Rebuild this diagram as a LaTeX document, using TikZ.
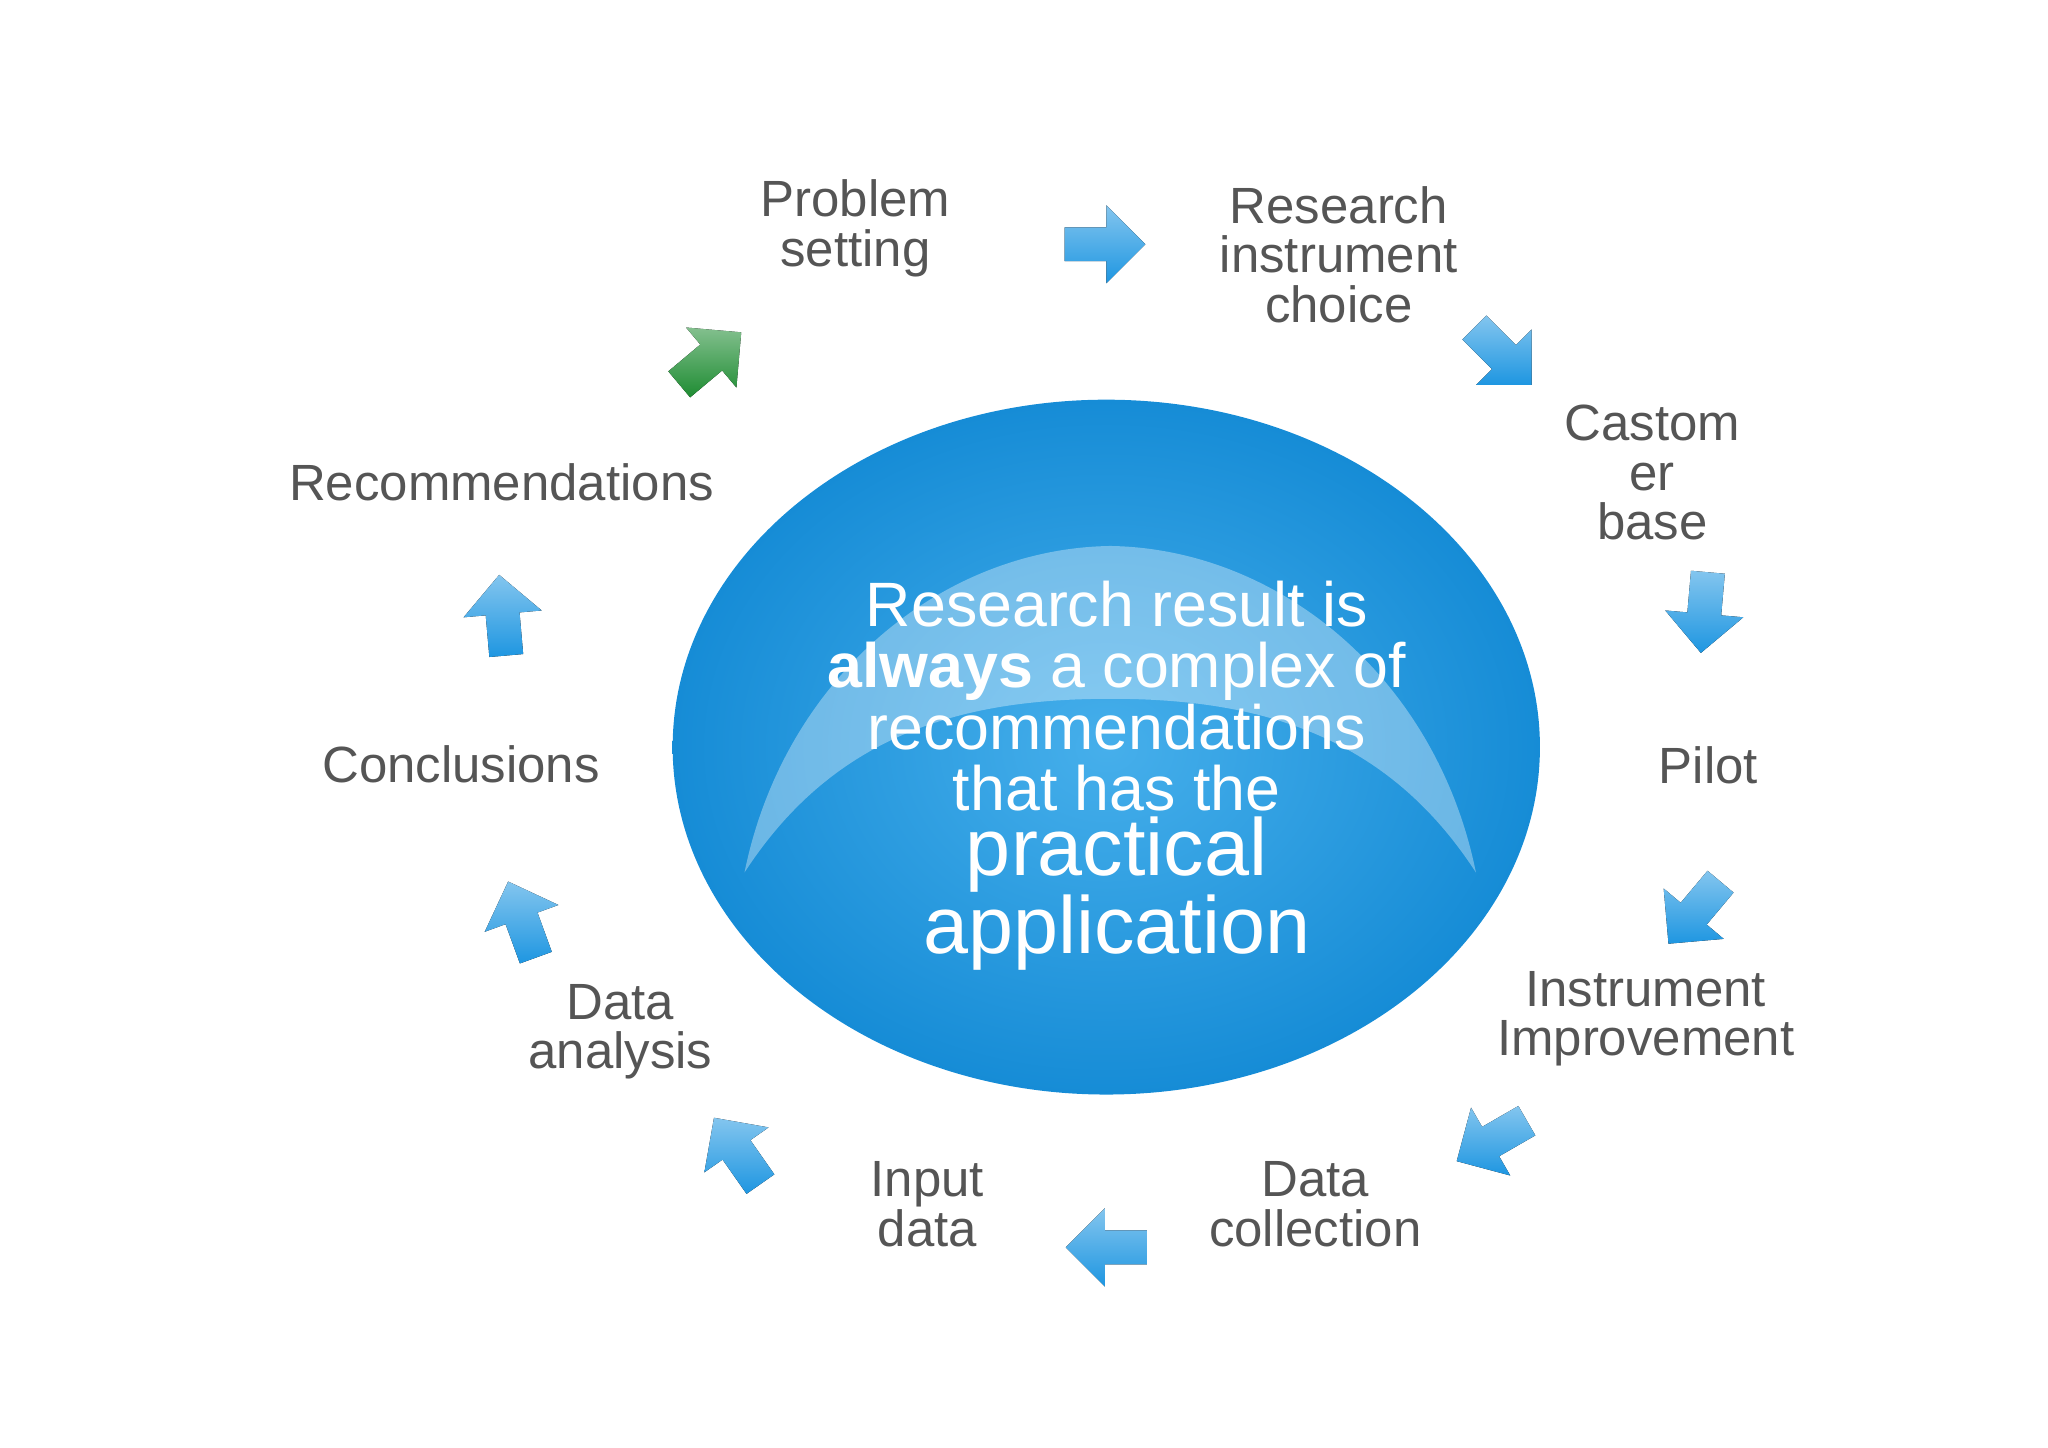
\documentclass[tikz,border=0pt]{standalone}
\usepackage{fontspec}
\setmainfont{Liberation Sans}
\usetikzlibrary{positioning}
\definecolor{labelgray}{RGB}{85,85,85}
\definecolor{ovalblue}{RGB}{22,140,214}
\definecolor{ovallight}{RGB}{70,175,235}
\definecolor{arrowblue}{RGB}{30,150,225}
\definecolor{arrowgreen}{RGB}{30,140,50}
\tikzset{every picture/.style={line width=0.75pt}}
\tikzset{
  steplabel/.style={text=labelgray, font=\fontsize{19.5}{19}\selectfont, align=center, inner sep=0.75pt},
  blockarrow/.style={top color=#1!55!white, bottom color=#1, draw=none},
}
% block arrow at (x,y), rotated by angle, in colour
\newcommand{\blockarr}[4]{%
  \fill[blockarrow=#4, shift={(#1,#2)}, rotate=#3]
    (-30,-13) -- (2,-13) -- (2,-30) -- (32,0) -- (2,30) -- (2,13) -- (-30,13) -- cycle;}

\begin{document}
\begin{tikzpicture}[x=0.5pt,y=-0.5pt]
    \useasboundingbox (0,0) rectangle (1568,1108);

    %Shape: Ellipse
    \shade [inner color=ovallight, outer color=ovalblue] (847,572) ellipse [x radius=332, y radius=266];
    %Shape: highlight band
    \fill [white, fill opacity=0.35] (570,668) .. controls (600,520) and (720,420) .. (850,418)
      .. controls (980,420) and (1100,520) .. (1130,668)
      .. controls (1060,560) and (960,535) .. (850,535)
      .. controls (740,535) and (640,560) .. (570,668) -- cycle;

    % Text Nodes
    \node (centre) [text=white, align=center, inner sep=0.75pt, font=\fontsize{24}{23.5}\selectfont] at (855,533)
      {Research result is\\ \textbf{always} a complex of\\ recommendations\\ that has the};
    \node (centre2) [text=white, align=center, inner sep=0.75pt, font=\fontsize{31}{28.5}\selectfont] at (855,684)
      {practical\\ application};

    \node (problem) [steplabel] at (655,175) {Problem\\setting};
    \node (instrument) [steplabel] at (1025,195) {Research\\instrument\\choice};
    \node (customer) [steplabel] at (1265,362) {Castom\\er\\base};
    \node (pilot) [steplabel] at (1308,586) {Pilot};
    \node (improvement) [steplabel] at (1260,780) {Instrument\\Improvement};
    \node (collection) [steplabel] at (1007,922) {Data\\collection};
    \node (input) [steplabel] at (710,922) {Input\\data};
    \node (analysis) [steplabel] at (475,790) {Data\\analysis};
    \node (conclusions) [steplabel] at (353,585) {Conclusions};
    \node (recommend) [steplabel] at (384,369) {Recommendations};

    %Shapes: block arrows
    \blockarr{845}{187}{0}{arrowblue}
    \blockarr{1150}{272}{-45}{arrowblue}
    \blockarr{1305}{468}{-95}{arrowblue}
    \blockarr{1298}{698}{-130}{arrowblue}
    \blockarr{1143}{873}{-150}{arrowblue}
    \blockarr{848}{955}{180}{arrowblue}
    \blockarr{565}{882}{125}{arrowblue}
    \blockarr{400}{705}{110}{arrowblue}
    \blockarr{385}{472}{95}{arrowblue}
    \blockarr{543}{275}{40}{arrowgreen}
\end{tikzpicture}
\end{document}
